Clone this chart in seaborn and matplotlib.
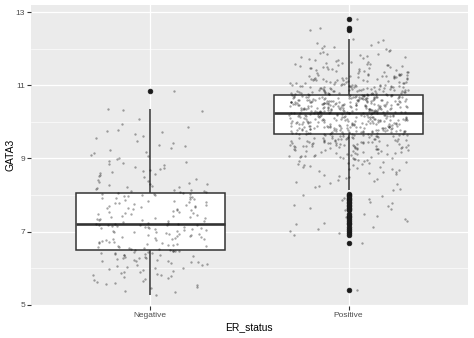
import numpy as np
import pandas as pd
import matplotlib
matplotlib.use("Agg")
import matplotlib.pyplot as plt
import seaborn as sns
from matplotlib.ticker import FixedLocator

groups = ["Negative", "Positive"]
y_ticks = [5, 7, 9, 11, 13]
y_minor = [6, 8, 10, 12]

# GATA3 expression, ER-negative tumours
negative_gata3 = [
    5.28, 5.34, 5.39, 5.45, 5.50, 5.53, 5.57, 5.59, 5.62, 5.65,
    5.68, 5.70, 5.73, 5.76, 5.78, 5.81, 5.83, 5.85, 5.87, 5.89,
    5.91, 5.93, 5.95, 5.98, 6.00, 6.02, 6.04, 6.06, 6.08, 6.10,
    6.12, 6.14, 6.16, 6.17, 6.19, 6.20, 6.21, 6.22, 6.24, 6.25,
    6.27, 6.28, 6.29, 6.31, 6.32, 6.33, 6.35, 6.36, 6.37, 6.38,
    6.40, 6.41, 6.42, 6.43, 6.44, 6.45, 6.46, 6.47, 6.48, 6.48,
    6.50, 6.51, 6.52, 6.54, 6.55, 6.56, 6.58, 6.59, 6.60, 6.62,
    6.63, 6.64, 6.66, 6.67, 6.68, 6.69, 6.71, 6.72, 6.73, 6.75,
    6.76, 6.77, 6.79, 6.80, 6.81, 6.82, 6.84, 6.85, 6.86, 6.88,
    6.89, 6.90, 6.91, 6.93, 6.94, 6.95, 6.96, 6.98, 6.99, 7.00,
    7.01, 7.03, 7.04, 7.05, 7.06, 7.08, 7.09, 7.10, 7.11, 7.12,
    7.13, 7.14, 7.15, 7.16, 7.17, 7.17, 7.18, 7.19, 7.19, 7.20,
    7.21, 7.22, 7.24, 7.25, 7.27, 7.28, 7.29, 7.31, 7.32, 7.34,
    7.35, 7.37, 7.38, 7.40, 7.41, 7.43, 7.44, 7.46, 7.47, 7.49,
    7.50, 7.52, 7.53, 7.55, 7.56, 7.58, 7.59, 7.61, 7.62, 7.64,
    7.65, 7.67, 7.68, 7.70, 7.71, 7.73, 7.74, 7.76, 7.77, 7.79,
    7.80, 7.82, 7.83, 7.85, 7.86, 7.88, 7.89, 7.91, 7.92, 7.94,
    7.95, 7.97, 7.98, 8.00, 8.01, 8.02, 8.03, 8.04, 8.05, 8.06,
    8.08, 8.09, 8.11, 8.12, 8.14, 8.15, 8.17, 8.19, 8.21, 8.23,
    8.25, 8.27, 8.29, 8.31, 8.33, 8.36, 8.39, 8.42, 8.45, 8.48,
    8.51, 8.54, 8.57, 8.60, 8.63, 8.66, 8.69, 8.72, 8.75, 8.78,
    8.81, 8.84, 8.87, 8.91, 8.94, 8.98, 9.02, 9.06, 9.10, 9.15,
    9.19, 9.23, 9.28, 9.33, 9.38, 9.43, 9.48, 9.55, 9.61, 9.66,
    9.72, 9.74, 9.77, 9.85, 9.94, 10.07, 10.31, 10.33, 10.35, 10.84,
]

# GATA3 expression, ER-positive tumours
positive_gata3 = [
    5.40, 6.69, 6.91, 6.96, 7.02, 7.08, 7.14, 7.20, 7.25, 7.30,
    7.36, 7.40, 7.44, 7.48, 7.58, 7.62, 7.66, 7.70, 7.74, 7.78,
    7.82, 7.86, 7.90, 7.93, 7.97, 8.00, 8.03,
    8.13, 8.17, 8.22, 8.26, 8.29, 8.33, 8.36, 8.39,
    8.41, 8.44, 8.46, 8.49, 8.52, 8.54, 8.57, 8.59, 8.62, 8.64, 8.67, 8.69,
    8.71, 8.72, 8.74, 8.76, 8.77, 8.79, 8.81, 8.82, 8.84, 8.85,
    8.87, 8.88, 8.90, 8.91, 8.93, 8.94, 8.95, 8.97, 8.98, 8.99,
    9.00, 9.01, 9.02, 9.03, 9.04, 9.05, 9.06, 9.07, 9.08, 9.08,
    9.09, 9.10, 9.11, 9.12, 9.13, 9.14, 9.14, 9.15, 9.16, 9.17,
    9.18, 9.19, 9.20, 9.20, 9.21, 9.22, 9.23, 9.24, 9.25, 9.25,
    9.26, 9.27, 9.27, 9.28, 9.28, 9.29, 9.29, 9.30,
    9.31, 9.31, 9.32, 9.32, 9.33, 9.33, 9.34, 9.34, 9.35, 9.35,
    9.36, 9.36, 9.37, 9.37, 9.38, 9.38, 9.39, 9.39, 9.40, 9.40,
    9.41, 9.41, 9.42, 9.42, 9.43, 9.43, 9.44, 9.44, 9.45, 9.45,
    9.46, 9.46, 9.47, 9.47, 9.48, 9.48, 9.49, 9.49, 9.50, 9.50,
    9.51, 9.51, 9.52, 9.52, 9.53, 9.53, 9.54, 9.54, 9.55, 9.55,
    9.56, 9.56, 9.57, 9.57, 9.58, 9.58, 9.59, 9.59, 9.60, 9.60,
    9.61, 9.61, 9.62, 9.62, 9.63, 9.63, 9.64, 9.64, 9.65, 9.65,
    9.66, 9.66, 9.66, 9.67, 9.67,
    9.68, 9.68, 9.68, 9.69, 9.69, 9.69, 9.69, 9.70, 9.70, 9.70,
    9.71, 9.71, 9.72, 9.72, 9.72, 9.73, 9.73, 9.73, 9.74, 9.74,
    9.74, 9.74, 9.75, 9.75, 9.75, 9.76, 9.76, 9.76, 9.77, 9.77,
    9.77,
    9.78, 9.78, 9.78, 9.79, 9.79, 9.79, 9.79, 9.80, 9.80, 9.80,
    9.81, 9.81, 9.82, 9.82, 9.82, 9.83, 9.83, 9.83, 9.84, 9.84,
    9.84, 9.84, 9.85, 9.85, 9.85, 9.86, 9.86, 9.86, 9.87, 9.87,
    9.87,
    9.88, 9.88, 9.88, 9.89, 9.89, 9.89, 9.89, 9.90, 9.90, 9.90,
    9.91, 9.91, 9.92, 9.92, 9.92, 9.93, 9.93, 9.93, 9.94, 9.94,
    9.94, 9.94, 9.95, 9.95, 9.95, 9.96, 9.96, 9.96, 9.97, 9.97,
    9.97,
    9.98, 9.98, 9.98, 9.99, 9.99, 9.99, 9.99, 10.00, 10.00, 10.00,
    10.01, 10.01, 10.02, 10.02, 10.02, 10.03, 10.03, 10.03, 10.04, 10.04,
    10.04, 10.04, 10.05, 10.05, 10.05, 10.06, 10.06, 10.06, 10.07, 10.07,
    10.07,
    10.08, 10.08, 10.08, 10.09, 10.09, 10.09, 10.09, 10.10, 10.10, 10.10,
    10.11, 10.11, 10.12, 10.12, 10.12, 10.13, 10.13, 10.13, 10.14, 10.14,
    10.14, 10.14, 10.15, 10.15, 10.15, 10.16, 10.16, 10.16, 10.17, 10.17,
    10.17,
    10.18, 10.18, 10.18, 10.19, 10.19, 10.19, 10.19, 10.20, 10.20, 10.20,
    10.21, 10.21, 10.22, 10.22, 10.22, 10.23, 10.23, 10.23, 10.24, 10.24,
    10.24, 10.24, 10.25, 10.25, 10.25,
    10.26, 10.26, 10.26, 10.26, 10.27, 10.27, 10.27, 10.28, 10.28, 10.28,
    10.28, 10.29, 10.29, 10.29, 10.29, 10.30, 10.30, 10.30, 10.31, 10.31,
    10.31, 10.31, 10.32, 10.32, 10.32, 10.32, 10.33, 10.33, 10.33, 10.34,
    10.34, 10.34, 10.34, 10.35, 10.35, 10.35, 10.35,
    10.36, 10.36, 10.36, 10.36, 10.37, 10.37, 10.37, 10.38, 10.38, 10.38,
    10.38, 10.39, 10.39, 10.39, 10.39, 10.40, 10.40, 10.40, 10.41, 10.41,
    10.41, 10.41, 10.42, 10.42, 10.42, 10.42, 10.43, 10.43, 10.43, 10.44,
    10.44, 10.44, 10.44, 10.45, 10.45, 10.45, 10.45,
    10.46, 10.46, 10.46, 10.46, 10.47, 10.47, 10.47, 10.48, 10.48, 10.48,
    10.48, 10.49, 10.49, 10.49, 10.49, 10.50, 10.50, 10.50, 10.51, 10.51,
    10.51, 10.51, 10.52, 10.52, 10.52, 10.52, 10.53, 10.53, 10.53, 10.54,
    10.54, 10.54, 10.54, 10.55, 10.55, 10.55, 10.55,
    10.56, 10.56, 10.56, 10.56, 10.57, 10.57, 10.57, 10.58, 10.58, 10.58,
    10.58, 10.59, 10.59, 10.59, 10.59, 10.60, 10.60, 10.60, 10.61, 10.61,
    10.61, 10.61, 10.62, 10.62, 10.62, 10.62, 10.63, 10.63, 10.63, 10.64,
    10.64, 10.64, 10.64, 10.65, 10.65, 10.65, 10.65,
    10.66, 10.66, 10.66, 10.66, 10.67, 10.67, 10.67, 10.67, 10.68, 10.68,
    10.68, 10.68, 10.69, 10.69, 10.69, 10.69, 10.70, 10.70, 10.70, 10.70,
    10.71, 10.71, 10.71, 10.71, 10.72, 10.72, 10.72, 10.72, 10.73, 10.73,
    10.73, 10.73,
    10.74, 10.74, 10.74, 10.75, 10.75, 10.75, 10.76, 10.76, 10.77, 10.77,
    10.77, 10.78, 10.78, 10.78, 10.79, 10.79, 10.80, 10.80, 10.80, 10.81,
    10.81, 10.82, 10.82, 10.82, 10.83, 10.83,
    10.84, 10.84, 10.84, 10.85, 10.85, 10.85, 10.86, 10.86, 10.87, 10.87,
    10.87, 10.88, 10.88, 10.88, 10.89, 10.89, 10.90, 10.90, 10.90, 10.91,
    10.91, 10.92, 10.92, 10.92, 10.93, 10.93,
    10.94, 10.94, 10.94, 10.95, 10.95, 10.95, 10.96, 10.96, 10.97, 10.97,
    10.97, 10.98, 10.98, 10.98, 10.99, 10.99, 11.00, 11.00,
    11.01, 11.01, 11.02, 11.02, 11.03, 11.04, 11.04, 11.05, 11.05, 11.06,
    11.07, 11.07, 11.08, 11.08, 11.09, 11.10, 11.10,
    11.11, 11.11, 11.12, 11.12, 11.13, 11.14, 11.14, 11.15, 11.15, 11.16,
    11.17, 11.17, 11.18, 11.18, 11.19, 11.20, 11.20,
    11.21, 11.21, 11.22, 11.22, 11.23, 11.24, 11.24, 11.25, 11.25, 11.26,
    11.27, 11.27, 11.28, 11.28, 11.29, 11.30,
    11.31, 11.32, 11.33, 11.34, 11.35, 11.36, 11.37, 11.38, 11.39, 11.40,
    11.41, 11.42, 11.43, 11.44, 11.45, 11.46, 11.47, 11.48, 11.49, 11.50,
    11.51, 11.52, 11.53, 11.54, 11.55, 11.56, 11.57, 11.58, 11.59, 11.60,
    11.62, 11.63, 11.64, 11.66, 11.68, 11.70, 11.72, 11.74, 11.76, 11.78,
    11.80, 11.82, 11.84, 11.86, 11.88, 11.90,
    11.93, 11.96, 11.99, 12.02, 12.05, 12.08, 12.11, 12.15, 12.19, 12.23,
    12.27, 12.51, 12.57, 12.82,
]

df = pd.DataFrame({
    "ER_status": ["Negative"] * len(negative_gata3) + ["Positive"] * len(positive_gata3),
    "GATA3": negative_gata3 + positive_gata3,
})

plt.rcParams["font.family"] = ["Liberation Sans", "DejaVu Sans"]

W, H = 474, 338
fig = plt.figure(figsize=(W / 100, H / 100), dpi=100)
left, right, top, bottom = 31, 467.7, 4.7, 306
ax = fig.add_axes([left / W, 1 - bottom / H, (right - left) / W, (bottom - top) / H])
ax.set_facecolor("#EBEBEB")

edge = "#333333"
sns.boxplot(
    data=df, x="ER_status", y="GATA3", order=groups, ax=ax,
    width=0.75, color="white", linecolor=edge, linewidth=1.1,
    showcaps=False,
    medianprops=dict(linewidth=1.9, color=edge),
    flierprops=dict(marker="o", markersize=3.4, markerfacecolor="#1a1a1a",
                    markeredgecolor="#1a1a1a", markeredgewidth=0.5),
)

np.random.seed(3)
sns.stripplot(
    data=df, x="ER_status", y="GATA3", order=groups, ax=ax,
    jitter=0.3, color="black", alpha=0.35, size=1.7, linewidth=0, zorder=4,
)

ax.set_xlim(-0.6, 1.6)
ax.set_ylim(4.97, 13.2)
ax.yaxis.set_major_locator(FixedLocator(y_ticks))
ax.yaxis.set_minor_locator(FixedLocator(y_minor))
ax.set_yticklabels([str(t) for t in y_ticks])

ax.set_axisbelow(True)
ax.grid(which="major", axis="both", color="white", linewidth=0.9)
ax.grid(which="minor", axis="y", color="white", linewidth=0.45)
for s in ax.spines.values():
    s.set_visible(False)

ax.tick_params(which="major", length=2.7, width=0.8, color=edge,
               labelsize=6, labelcolor="#4D4D4D", pad=1.5)
ax.tick_params(which="minor", length=0)

ax.set_xlabel("ER_status", fontsize=7.4, color="black")
ax.set_ylabel("GATA3", fontsize=7.4, color="black")
ax.xaxis.set_label_coords(0.5, -0.052)
ax.yaxis.set_label_coords(-0.036, 0.5)

fig.savefig("out.png", dpi=100)
